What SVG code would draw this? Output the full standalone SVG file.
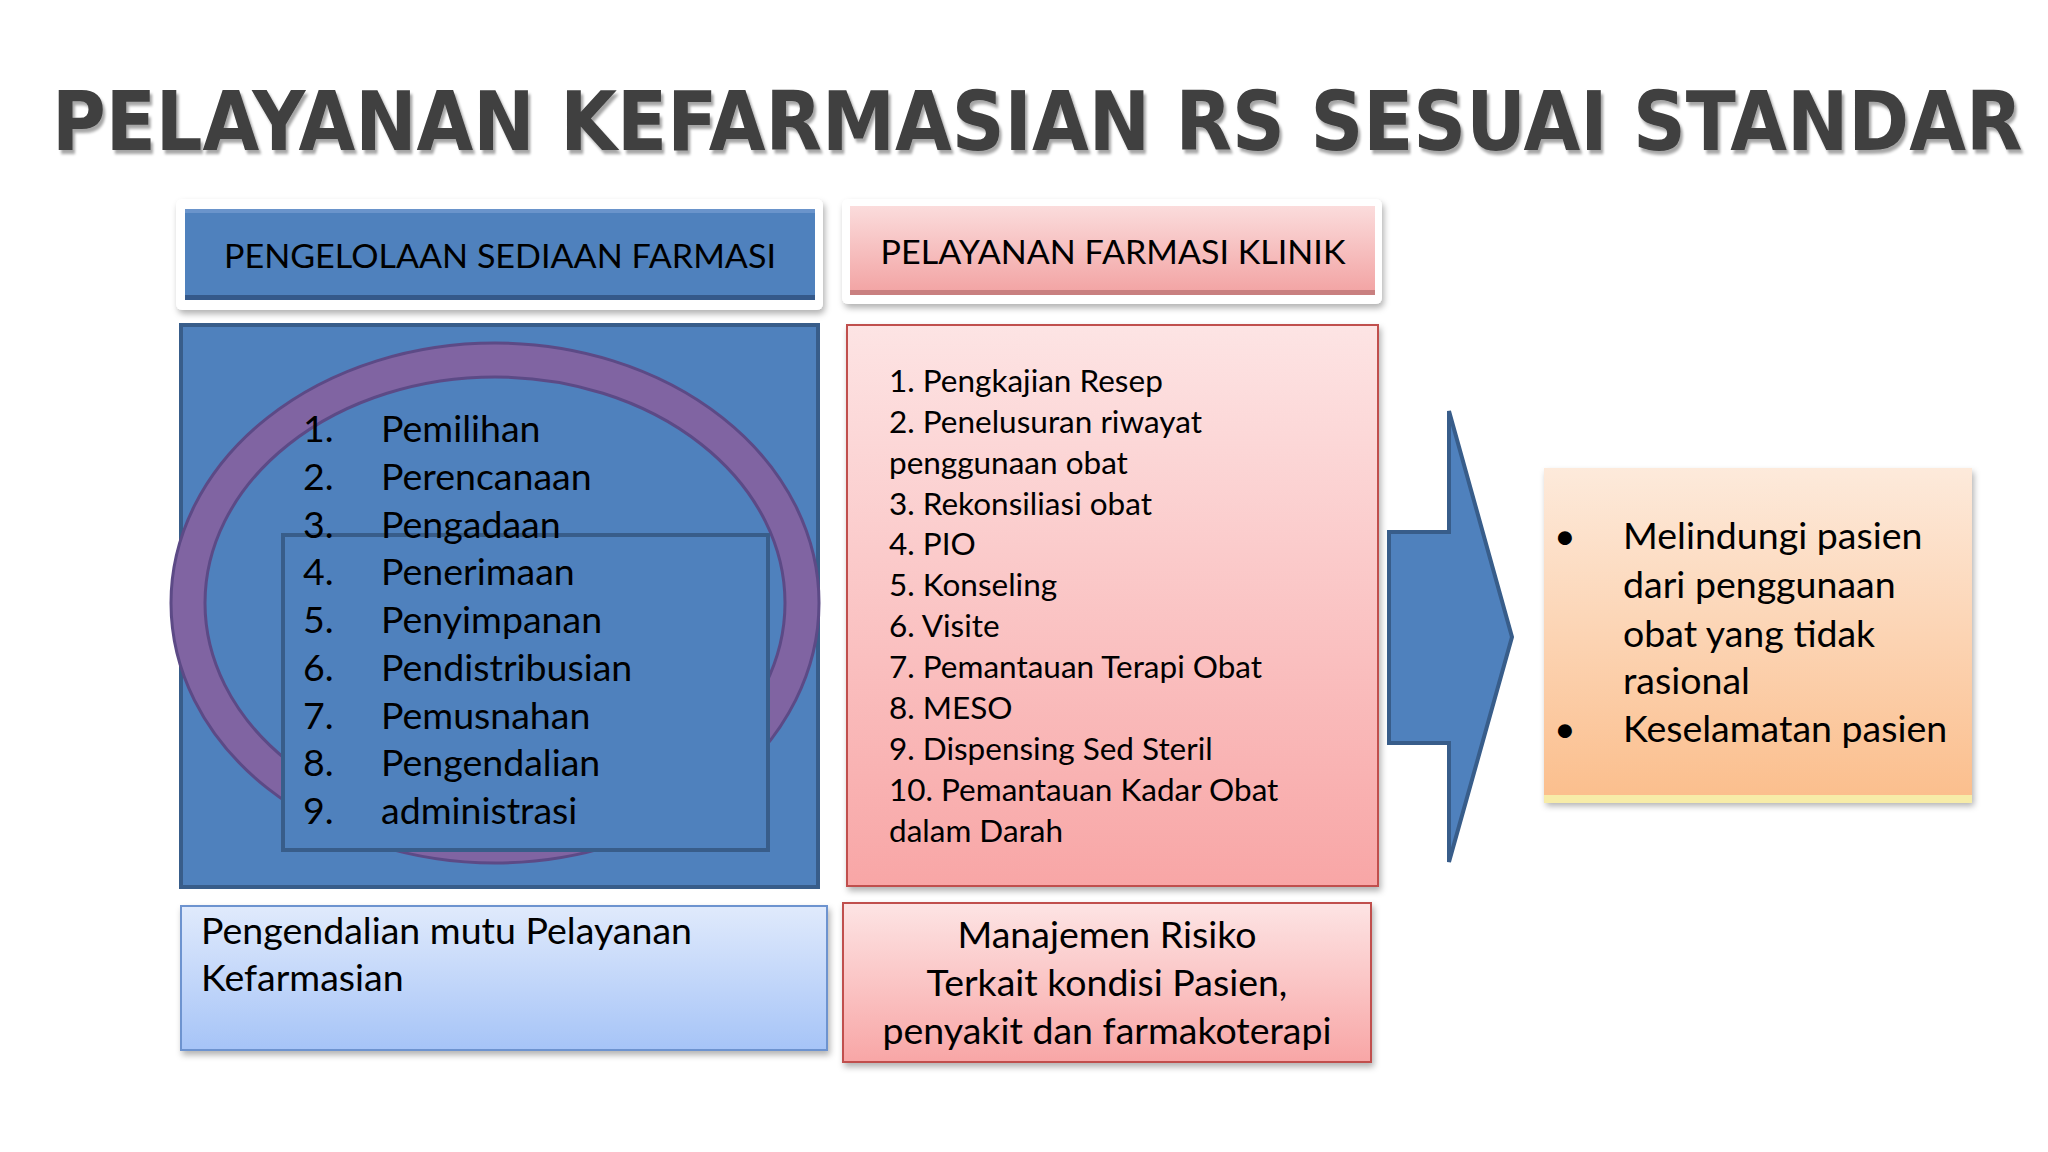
<svg xmlns="http://www.w3.org/2000/svg" width="2048" height="1152" viewBox="0 0 2048 1152">
<defs>
<style>
.t{font-family:Lato,"Open Sans","Liberation Sans",sans-serif;fill:#000}
.big{font-size:37.5px}
.mid{font-size:31.5px}
.hdr{font-size:32px}
</style>
<linearGradient id="gPink" x1="0" y1="0" x2="0" y2="1"><stop offset="0" stop-color="#fde4e4"/><stop offset="1" stop-color="#f8a6a6"/></linearGradient>
<linearGradient id="gPinkH" x1="0" y1="0" x2="0" y2="1"><stop offset="0" stop-color="#fbdcdc"/><stop offset="1" stop-color="#f2a2a2"/></linearGradient>
<linearGradient id="gBlueL" x1="0" y1="0" x2="0" y2="1"><stop offset="0" stop-color="#e0eafc"/><stop offset="1" stop-color="#a6c4f7"/></linearGradient>
<linearGradient id="gOr" x1="0" y1="0" x2="0" y2="1"><stop offset="0" stop-color="#fdeadb"/><stop offset="1" stop-color="#fbbe8c"/></linearGradient>
<filter id="sh" x="-10%" y="-10%" width="120%" height="130%"><feDropShadow dx="2" dy="4" stdDeviation="3" flood-color="#000" flood-opacity="0.3"/></filter>
<filter id="tsh" x="-2%" y="-20%" width="104%" height="150%"><feDropShadow dx="3" dy="4" stdDeviation="1.5" flood-color="#000" flood-opacity="0.35"/></filter>
</defs>
<rect width="2048" height="1152" fill="#fff"/>

<g id="title">
<text transform="scale(0.82,1)" x="63.4" y="150" font-family="'DejaVu Sans',Verdana,sans-serif" font-weight="bold" font-size="82" fill="#404040" textLength="2403" lengthAdjust="spacingAndGlyphs" filter="url(#tsh)">PELAYANAN KEFARMASIAN RS SESUAI STANDAR</text>
</g>

<g id="hdr-left">
<rect x="176" y="199" width="647" height="111" rx="6" fill="#fff" filter="url(#sh)"/>
<rect x="185" y="209" width="630" height="91" fill="#4f81bd"/>
<rect x="185" y="209" width="630" height="4" fill="#6a94cb"/>
<rect x="185" y="295" width="630" height="5" fill="#35598a"/>
<text class="t hdr" x="500" y="268" text-anchor="middle" textLength="552" lengthAdjust="spacingAndGlyphs">PENGELOLAAN SEDIAAN FARMASI</text>
</g>

<g id="hdr-right">
<rect x="842" y="199" width="540" height="105" rx="6" fill="#fff" filter="url(#sh)"/>
<rect x="850" y="206" width="525" height="89" fill="url(#gPinkH)"/>
<rect x="850" y="290" width="525" height="5" fill="#c98080"/>
<text class="t hdr" x="1113" y="264" text-anchor="middle" textLength="465" lengthAdjust="spacingAndGlyphs">PELAYANAN FARMASI KLINIK</text>
</g>

<g id="list-left">
<rect x="181" y="325" width="637" height="562" fill="#4f81bd" stroke="#385d8a" stroke-width="4"/>
<ellipse cx="495" cy="603" rx="307" ry="243" fill="none" stroke="#5c4a86" stroke-width="37"/>
<ellipse cx="495" cy="603" rx="307" ry="243" fill="none" stroke="#8064a2" stroke-width="31"/>
<rect x="283" y="535" width="485" height="315" fill="#4f81bd" stroke="#385d8a" stroke-width="4"/>
<g class="t big">
<text x="303" y="442">1.</text><text x="381" y="442">Pemilihan</text>
<text x="303" y="490">2.</text><text x="381" y="490">Perencanaan</text>
<text x="303" y="538">3.</text><text x="381" y="538">Pengadaan</text>
<text x="303" y="585">4.</text><text x="381" y="585">Penerimaan</text>
<text x="303" y="633">5.</text><text x="381" y="633">Penyimpanan</text>
<text x="303" y="681">6.</text><text x="381" y="681">Pendistribusian</text>
<text x="303" y="729">7.</text><text x="381" y="729">Pemusnahan</text>
<text x="303" y="776">8.</text><text x="381" y="776">Pengendalian</text>
<text x="303" y="824">9.</text><text x="381" y="824">administrasi</text>
</g>
</g>

<g id="list-right">
<rect x="847" y="325" width="531" height="561" fill="url(#gPink)" stroke="#c0504d" stroke-width="2" filter="url(#sh)"/>
<g class="t mid">
<text x="889" y="392">1. Pengkajian Resep</text>
<text x="889" y="433">2. Penelusuran riwayat</text>
<text x="889" y="474">penggunaan obat</text>
<text x="889" y="515">3. Rekonsiliasi obat</text>
<text x="889" y="555">4. PIO</text>
<text x="889" y="596">5. Konseling</text>
<text x="889" y="637">6. Visite</text>
<text x="889" y="678">7. Pemantauan Terapi Obat</text>
<text x="889" y="719">8. MESO</text>
<text x="889" y="760">9. Dispensing Sed Steril</text>
<text x="889" y="801">10. Pemantauan Kadar Obat</text>
<text x="889" y="842">dalam Darah</text>
</g>
</g>

<g id="connectors">
<path d="M1389,532 L1449,532 L1449,411 L1512,637 L1449,862 L1449,743 L1389,743 Z" fill="#4f81bd" stroke="#385d8a" stroke-width="4" stroke-linejoin="miter"/>
</g>

<g id="result">
<rect x="1544" y="468" width="428" height="334" fill="url(#gOr)" filter="url(#sh)"/>
<rect x="1544" y="795" width="428" height="8" fill="#f7eca8"/>
<g class="t big">
<text x="1554" y="549">•</text><text x="1623" y="549">Melindungi pasien</text>
<text x="1623" y="598">dari penggunaan</text>
<text x="1623" y="647">obat yang tidak</text>
<text x="1623" y="694">rasional</text>
<text x="1554" y="742">•</text><text x="1623" y="742">Keselamatan pasien</text>
</g>
</g>

<g id="mutu">
<rect x="181" y="906" width="646" height="144" fill="url(#gBlueL)" stroke="#6d93cf" stroke-width="2" filter="url(#sh)"/>
<g class="t big">
<text x="201" y="944">Pengendalian mutu Pelayanan</text>
<text x="201" y="991">Kefarmasian</text>
</g>
</g>

<g id="risiko">
<rect x="843" y="903" width="528" height="159" fill="url(#gPink)" stroke="#c0504d" stroke-width="2" filter="url(#sh)"/>
<g class="t big" text-anchor="middle">
<text x="1107" y="948">Manajemen Risiko</text>
<text x="1107" y="996">Terkait kondisi Pasien,</text>
<text x="1107" y="1044">penyakit dan farmakoterapi</text>
</g>
</g>
</svg>
